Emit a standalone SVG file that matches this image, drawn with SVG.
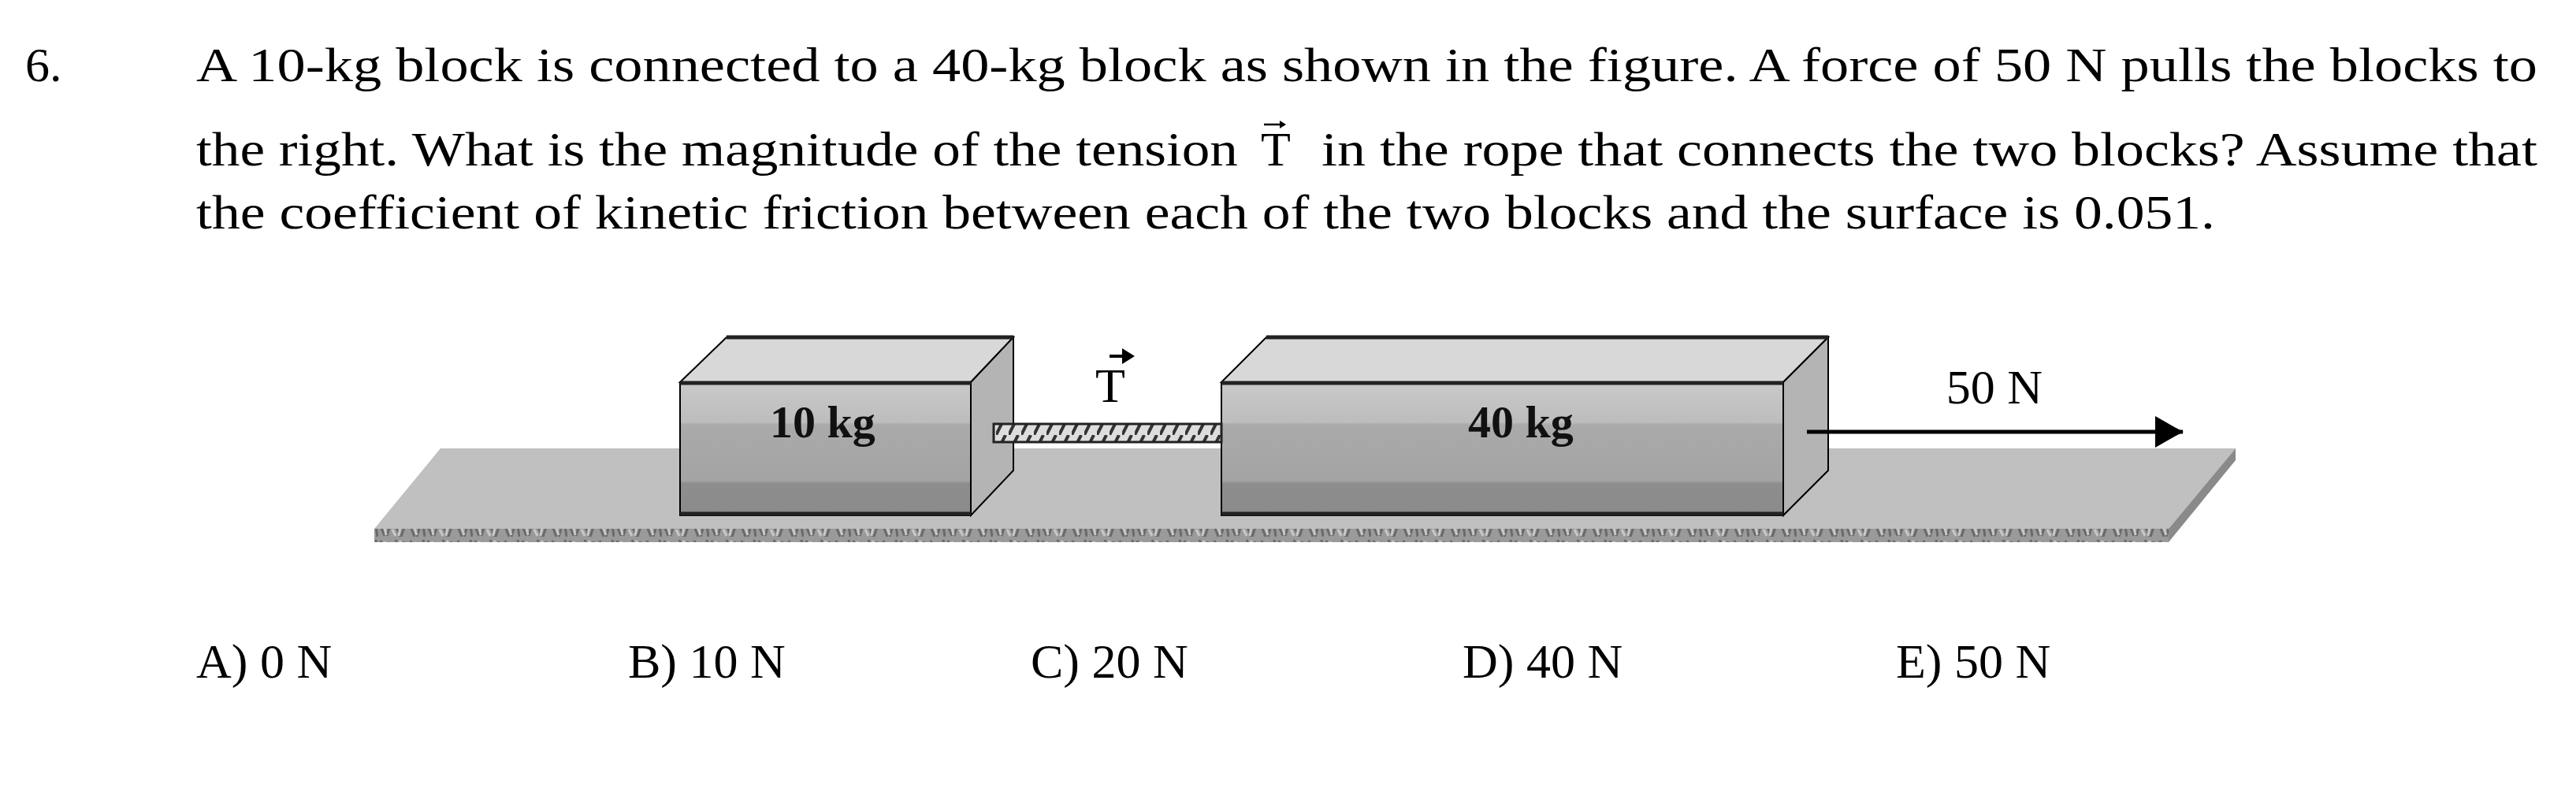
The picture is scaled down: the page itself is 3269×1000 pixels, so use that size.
<svg xmlns="http://www.w3.org/2000/svg" width="3269" height="1000" viewBox="0 0 3269 1000">
<style>
.t{font-family:"Liberation Serif",serif;font-size:62px;fill:#000}
.b{font-family:"Liberation Serif",serif;font-size:58px;font-weight:bold;fill:#111;text-anchor:middle}
.edge{stroke:#000;stroke-width:2;fill:none}
</style>
<defs>
<linearGradient id="front" x1="0" y1="0" x2="0" y2="1">
<stop offset="0" stop-color="#c9c9c9"/><stop offset="0.3" stop-color="#bdbdbd"/><stop offset="0.32" stop-color="#aaaaaa"/><stop offset="0.74" stop-color="#a4a4a4"/><stop offset="0.76" stop-color="#8e8e8e"/><stop offset="1" stop-color="#8a8a8a"/>
</linearGradient>
<pattern id="hatch" width="16" height="24" patternUnits="userSpaceOnUse">
<rect width="16" height="24" fill="#ddd"/><path d="M0 24 L12 0" stroke="#333" stroke-width="4"/>
</pattern>
<pattern id="noise" width="60" height="18" patternUnits="userSpaceOnUse">
<rect width="60" height="18" fill="#9a9a9a"/>
<path d="M3 2 l5 12 M14 4 l-3 10 M22 1 l6 14 M33 3 l-4 12 M41 2 l5 13 M52 5 l-3 10 M57 1 l2 14" stroke="#6a6a6a" stroke-width="3"/>
<path d="M8 3 l2 10 M18 6 l4 8 M28 2 l-2 12 M46 4 l3 9" stroke="#c8c8c8" stroke-width="3"/>
</pattern>
<marker id="ah" markerWidth="10" markerHeight="10" refX="9" refY="5" orient="auto" markerUnits="userSpaceOnUse" viewBox="0 0 10 10">
<path d="M0 0 L10 5 L0 10 Z" fill="#000"/>
</marker>
</defs>
<text class="t" x="32" y="103">6.</text>
<text class="t" x="249" y="103" textLength="2971" lengthAdjust="spacingAndGlyphs">A 10-kg block is connected to a 40-kg block as shown in the figure.  A force of 50 N pulls the blocks to</text>
<text class="t" x="249" y="210" textLength="1322" lengthAdjust="spacingAndGlyphs">the right. What is the magnitude of the tension</text>
<text class="t" x="1600" y="210">T</text>
<path d="M1604 158 H1630" stroke="#000" stroke-width="2.5"/><path d="M1624 153 L1632 158 L1624 163 Z" fill="#000"/>
<text class="t" x="1677" y="210" textLength="1543" lengthAdjust="spacingAndGlyphs">in the rope that connects the two blocks? Assume that</text>
<text class="t" x="249" y="290" textLength="2562" lengthAdjust="spacingAndGlyphs">the coefficient of kinetic friction between each of the two blocks and the surface is 0.051.</text>
<g id="floor">
<polygon points="559,569 2837,569 2752,671 475,671" fill="#c0c0c0"/>
<polygon points="2837,569 2837,584 2752,688 2752,671" fill="#8a8a8a"/>
<rect x="475" y="671" width="2277" height="17" fill="url(#noise)"/>
</g>
<g id="block10">
<polygon points="863,485 922,428 1286,428 1232,485" fill="#d8d8d8" stroke="#000" stroke-width="2"/>
<polygon points="1232,485 1286,428 1286,597 1232,654" fill="#b4b4b4" stroke="#000" stroke-width="2"/>
<rect x="863" y="485" width="369" height="169" fill="url(#front)" stroke="#000" stroke-width="2"/>
<path d="M922 428 H1286 M863 486 H1232 M863 652 H1232" stroke="#222" stroke-width="5"/>
<text class="b" x="1044" y="555">10 kg</text>
</g>
<g id="block40">
<polygon points="1550,485 1607,428 2320,428 2263,485" fill="#d8d8d8" stroke="#000" stroke-width="2"/>
<polygon points="2263,485 2320,428 2320,597 2263,654" fill="#b4b4b4" stroke="#000" stroke-width="2"/>
<rect x="1550" y="485" width="713" height="169" fill="url(#front)" stroke="#000" stroke-width="2"/>
<path d="M1607 428 H2320 M1550 486 H2263 M1550 652 H2263" stroke="#222" stroke-width="5"/>
<text class="b" x="1930" y="555">40 kg</text>
</g>
<g id="rope">
<rect x="1261" y="538" width="289" height="23" fill="url(#hatch)" stroke="#222" stroke-width="3"/>
<text class="t" x="1409" y="510" text-anchor="middle" font-size="56">T</text>
<path d="M1408 452 H1432" stroke="#000" stroke-width="4"/><path d="M1424 442 L1440 452 L1424 462 Z" fill="#000"/>
</g>
<g id="connectors">
<path d="M2293 548 H2770" stroke="#000" stroke-width="5" marker-end="url(#ah)"/>
<path d="M2735 528 L2770 548 L2735 568 Z" fill="#000"/>
</g>
<text class="t" x="2531" y="512" text-anchor="middle" font-size="56">50 N</text>
<text class="t" x="249" y="860">A)  0 N</text>
<text class="t" x="797" y="860">B)  10 N</text>
<text class="t" x="1308" y="860">C)  20 N</text>
<text class="t" x="1856" y="860">D)  40 N</text>
<text class="t" x="2406" y="860">E)  50 N</text>
</svg>
